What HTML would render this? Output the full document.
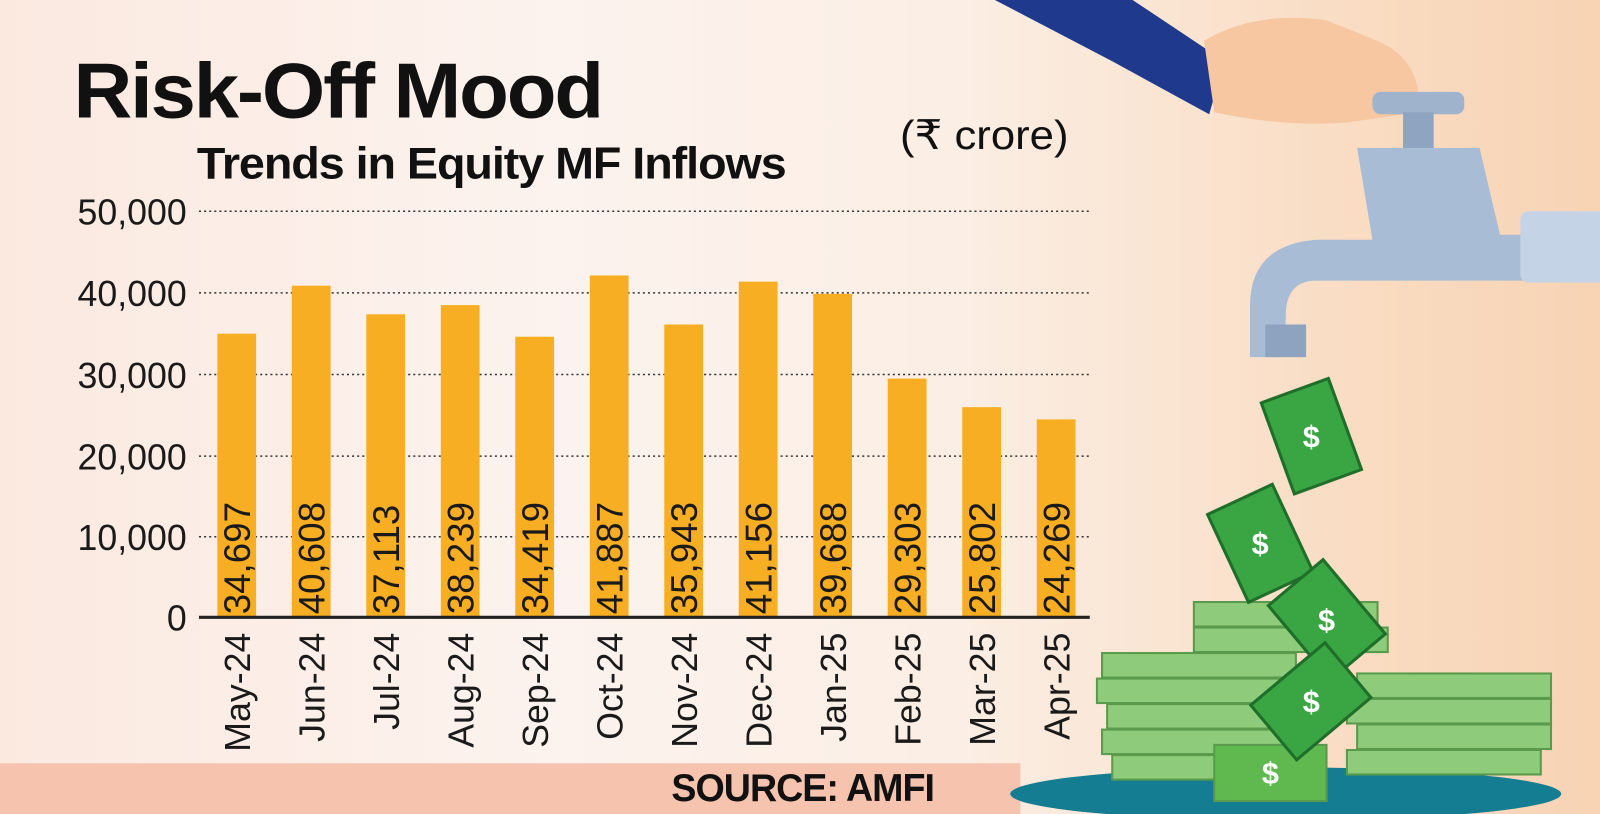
<!DOCTYPE html>
<html><head><meta charset="utf-8"><style>
html,body{margin:0;padding:0}
body{width:1600px;height:814px;overflow:hidden;position:relative;font-family:"Liberation Sans",sans-serif;
background:linear-gradient(90deg,#fbe9e0 0%,#fcf3ee 35%,#fbeee4 60%,#f9dcc2 85%,#f8d3b4 100%);}
#w{position:absolute;left:0;top:0;width:1568px;height:798px;transform:scale(1.0204);transform-origin:0 0}
.t{position:absolute;color:#111;white-space:nowrap}
</style></head><body><div id="w">
<svg width="1568" height="798" style="position:absolute;left:0;top:0" xmlns="http://www.w3.org/2000/svg">
<rect x="0" y="748" width="1000" height="52" fill="#f6c3ae"/>
<g stroke="#333" stroke-width="1.5" stroke-dasharray="2,3">
<line x1="195" x2="1070" y1="207" y2="207"/>
<line x1="195" x2="1070" y1="287" y2="287"/>
<line x1="195" x2="1070" y1="367" y2="367"/>
<line x1="195" x2="1070" y1="447" y2="447"/>
<line x1="195" x2="1070" y1="526" y2="526"/>
</g>
<g fill="#f8ae22">
<rect x="213" y="327" width="38" height="278"/>
<rect x="286" y="280" width="38" height="325"/>
<rect x="359" y="308" width="38" height="297"/>
<rect x="432" y="299" width="38" height="306"/>
<rect x="505" y="330" width="38" height="275"/>
<rect x="578" y="270" width="38" height="335"/>
<rect x="651" y="318" width="38" height="287"/>
<rect x="724" y="276" width="38" height="329"/>
<rect x="797" y="288" width="38" height="317"/>
<rect x="870" y="371" width="38" height="234"/>
<rect x="943" y="399" width="38" height="206"/>
<rect x="1016" y="411" width="38" height="194"/>
</g>
<line x1="195" x2="1068" y1="605" y2="605" stroke="#222" stroke-width="3"/>
<g font-family="Liberation Sans" font-size="36" fill="#1a1a1a">
<text transform="translate(245,602) rotate(-90)">34,697</text>
<text transform="translate(318,602) rotate(-90)">40,608</text>
<text transform="translate(391,602) rotate(-90)">37,113</text>
<text transform="translate(464,602) rotate(-90)">38,239</text>
<text transform="translate(537,602) rotate(-90)">34,419</text>
<text transform="translate(610,602) rotate(-90)">41,887</text>
<text transform="translate(683,602) rotate(-90)">35,943</text>
<text transform="translate(756,602) rotate(-90)">41,156</text>
<text transform="translate(829,602) rotate(-90)">39,688</text>
<text transform="translate(902,602) rotate(-90)">29,303</text>
<text transform="translate(975,602) rotate(-90)">25,802</text>
<text transform="translate(1048,602) rotate(-90)">24,269</text>
</g>
<g font-family="Liberation Sans" font-size="35" fill="#1a1a1a" text-anchor="end">
<text transform="translate(245,620) rotate(-90)">May-24</text>
<text transform="translate(318,620) rotate(-90)">Jun-24</text>
<text transform="translate(391,620) rotate(-90)">Jul-24</text>
<text transform="translate(464,620) rotate(-90)">Aug-24</text>
<text transform="translate(537,620) rotate(-90)">Sep-24</text>
<text transform="translate(610,620) rotate(-90)">Oct-24</text>
<text transform="translate(683,620) rotate(-90)">Nov-24</text>
<text transform="translate(756,620) rotate(-90)">Dec-24</text>
<text transform="translate(829,620) rotate(-90)">Jan-25</text>
<text transform="translate(902,620) rotate(-90)">Feb-25</text>
<text transform="translate(975,620) rotate(-90)">Mar-25</text>
<text transform="translate(1048,620) rotate(-90)">Apr-25</text>
</g>
<g font-family="Liberation Sans" font-size="35" fill="#1a1a1a" text-anchor="end">
<text x="183" y="220">50,000</text>
<text x="183" y="300">40,000</text>
<text x="183" y="380">30,000</text>
<text x="183" y="460">20,000</text>
<text x="183" y="539">10,000</text>
<text x="183" y="618">0</text>
</g>
<polygon points="975,0 1110,0 1200,60 1185,112 1090,60" fill="#1f3a8c"/>
<path d="M1180,40 Q1230,10 1300,20 L1350,40 Q1395,60 1390,110 L1320,120 Q1260,125 1190,110 Z" fill="#f6c7a0"/>
<rect x="1345" y="90" width="90" height="22" rx="8" fill="#9fb3cc"/>
<rect x="1375" y="110" width="30" height="35" fill="#8fa4c0"/>
<path d="M1330,145 L1450,145 L1470,230 L1600,230 L1600,275 L1290,275 Q1260,275 1260,310 L1260,350 L1225,350 L1225,300 Q1225,240 1290,235 L1345,235 Z" fill="#a9bcd6"/>
<rect x="1490" y="207" width="110" height="70" rx="8" fill="#c4d3e6"/>
<rect x="1240" y="318" width="40" height="32" fill="#8ea3bf"/>
<ellipse cx="1260" cy="778" rx="270" ry="26" fill="#157d91"/>
<g fill="#8ecb7a" stroke="#5a9a4c" stroke-width="2">
<rect x="1080" y="640" width="190" height="24"/>
<rect x="1075" y="665" width="200" height="24"/>
<rect x="1085" y="690" width="195" height="24"/>
<rect x="1080" y="715" width="200" height="24"/>
<rect x="1090" y="740" width="190" height="24"/>
<rect x="1170" y="590" width="180" height="24"/>
<rect x="1170" y="615" width="190" height="24"/>
<rect x="1330" y="660" width="190" height="24"/>
<rect x="1320" y="685" width="200" height="24"/>
<rect x="1330" y="710" width="190" height="24"/>
<rect x="1320" y="735" width="190" height="24"/>
<rect x="1190" y="730" width="110" height="55" fill="#5fb94e"/>
</g>
<g fill="#3aa543" stroke="#1f6e2a" stroke-width="3">
<rect x="1250" y="380" width="70" height="95" transform="rotate(-20 1285 427)"/>
<rect x="1200" y="485" width="70" height="95" transform="rotate(-25 1235 532)"/>
<rect x="1265" y="560" width="70" height="95" transform="rotate(-40 1300 607)"/>
<rect x="1250" y="640" width="70" height="95" transform="rotate(50 1285 687)"/>
</g>
<g fill="#fff" font-family="Liberation Sans" font-size="30" font-weight="bold" text-anchor="middle">
<text x="1285" y="438">$</text><text x="1235" y="543">$</text><text x="1300" y="618">$</text><text x="1285" y="698">$</text><text x="1245" y="768">$</text>
</g>
</svg>
<div class="t" style="left:72px;top:46px;font-size:76px;font-weight:bold;letter-spacing:-2px;transform:scaleX(1.05);transform-origin:left">Risk-Off Mood</div>
<div class="t" style="left:193px;top:136px;font-size:44px;font-weight:bold;letter-spacing:-1px;transform:scaleX(1.04);transform-origin:left">Trends in Equity MF Inflows</div>
<div class="t" style="left:882px;top:110px;font-size:40px;transform:scaleX(1.07);transform-origin:left">(₹ crore)</div>
<div class="t" style="left:658px;top:752px;font-size:38px;font-weight:bold;letter-spacing:-1px;transform:scaleX(0.97);transform-origin:left">SOURCE: AMFI</div>
</div></body></html>
